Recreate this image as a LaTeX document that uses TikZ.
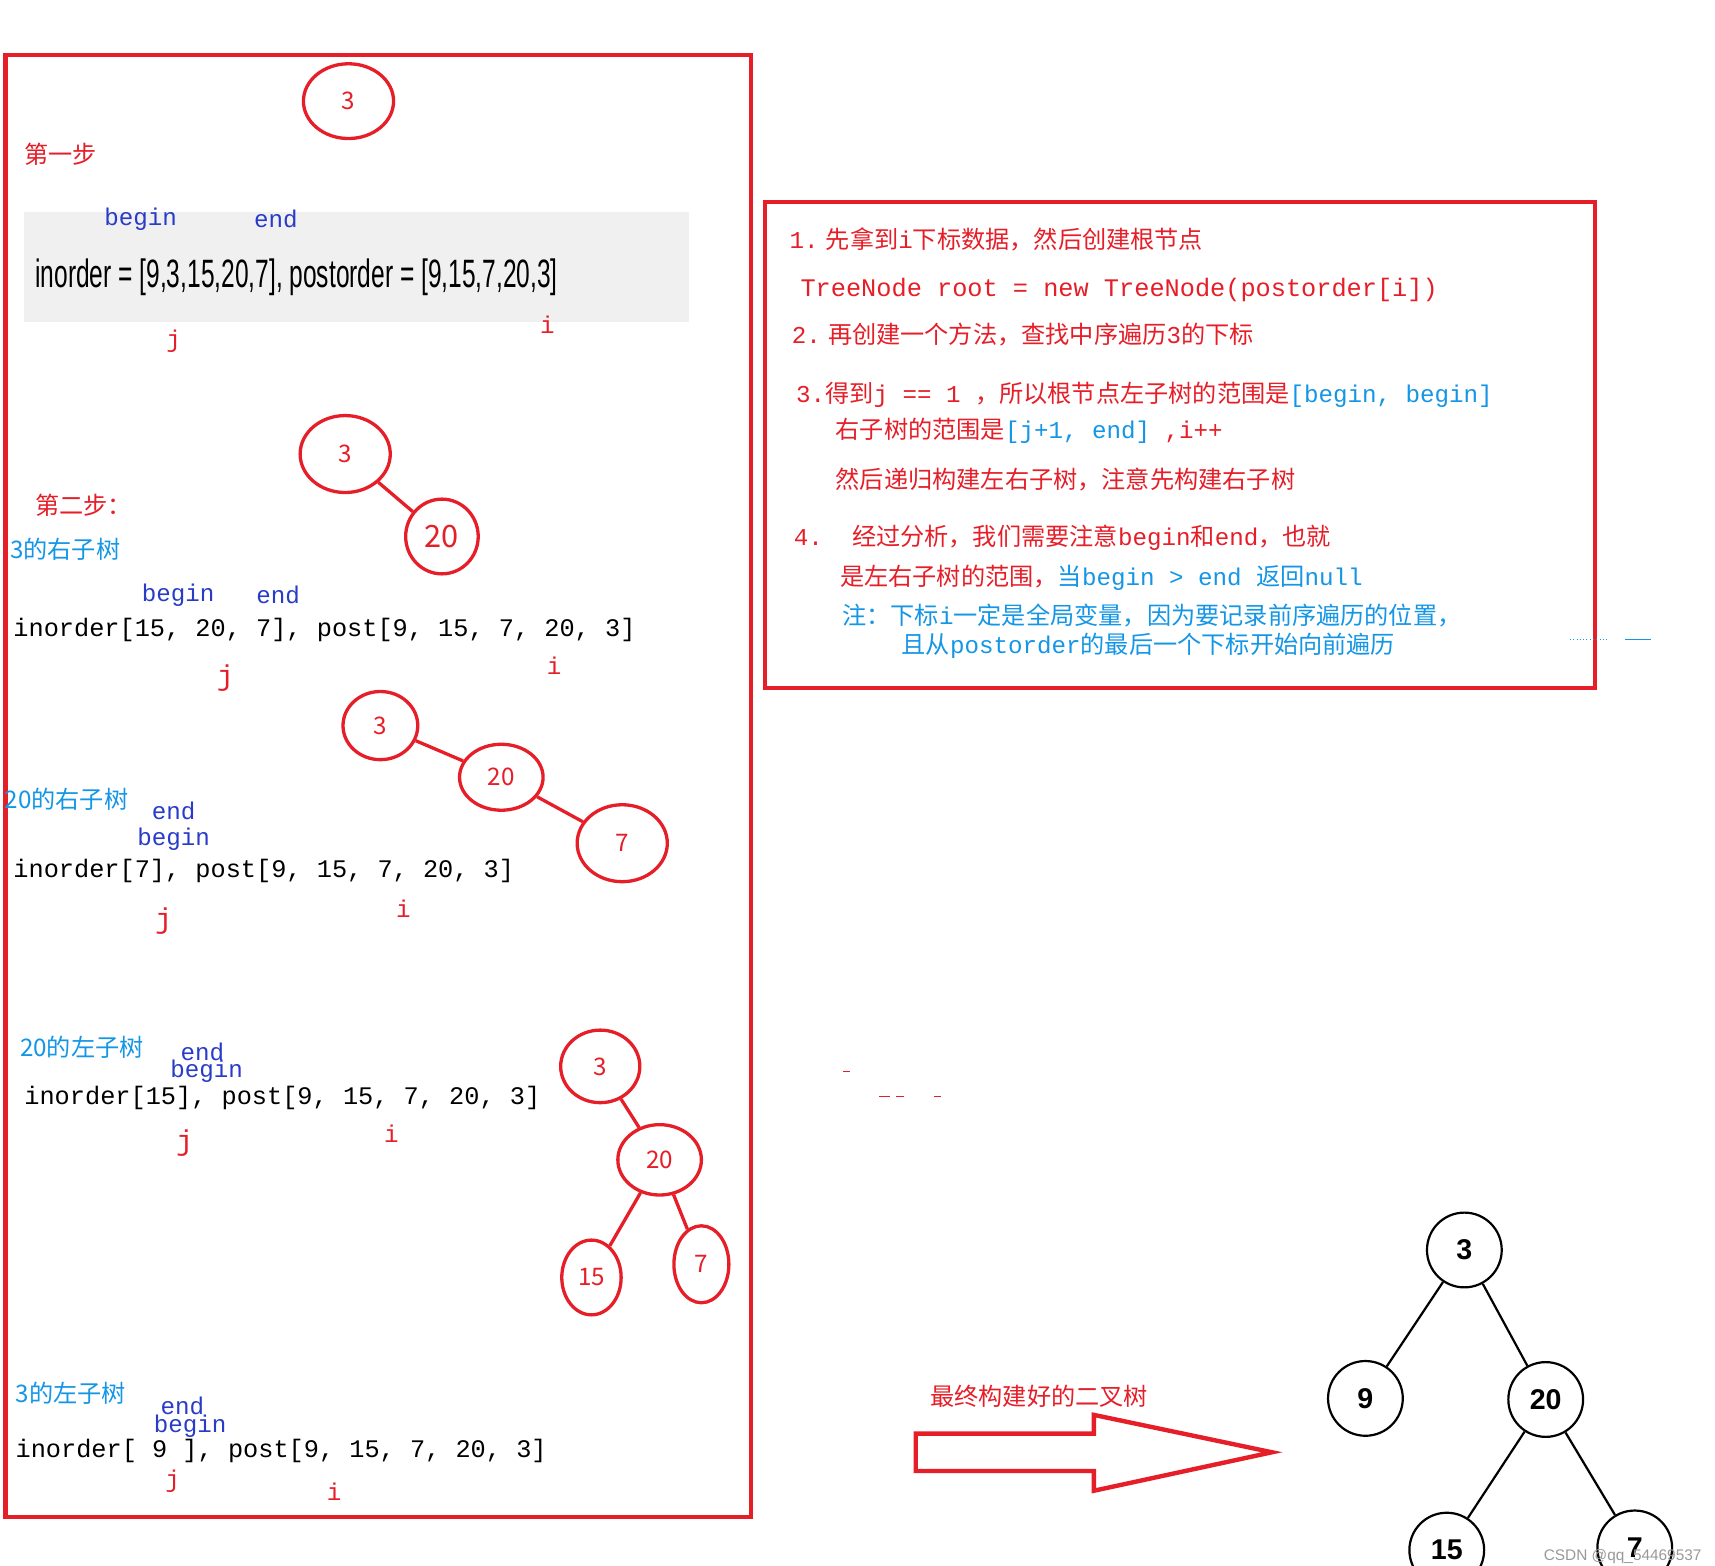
\documentclass[tikz,border=0pt]{standalone}
\usepackage{fontspec}
\usetikzlibrary{shapes.geometric}
\setmainfont{Noto Sans CJK SC}
\newfontfamily\mono{Liberation Mono}
\newfontfamily\arialf{Liberation Sans}
\definecolor{rd}{RGB}{230,30,40}
\definecolor{bl}{RGB}{40,60,200}
\definecolor{cy}{RGB}{20,150,230}
\newcommand{\mm}[1]{{\mono\fontsize{22}{24}\selectfont #1}}
\begin{document}
\begin{tikzpicture}[x=1pt,y=-1pt,
  rc/.style={draw=rd,line width=3pt,ellipse,inner sep=0pt},
  rt/.style={text=rd,font=\fontsize{22}{24}\selectfont,anchor=west,inner sep=0pt},
  bt/.style={text=bl,font=\mono\fontsize{22}{24}\selectfont,inner sep=0pt},
  ct/.style={text=cy,font=\fontsize{22}{24}\selectfont,anchor=west,inner sep=0pt},
  code/.style={font=\mono\fontsize{23}{25}\selectfont,anchor=west,inner sep=0pt},
  ij/.style={text=rd,font=\mono\fontsize{22}{24}\selectfont,inner sep=0pt},
  rl/.style={draw=rd,line width=3pt},
  bc/.style={draw,circle,line width=2pt,minimum size=68pt,inner sep=0pt,font=\arialf\bfseries\fontsize{26}{28}\selectfont},
  bl2/.style={line width=2pt}]
\useasboundingbox (0,0) rectangle (1560,1424);
\fill[white] (0,0) rectangle (1560,1424);
\node[draw=rd,line width=4pt,minimum width=678pt,minimum height=1330pt,anchor=north west] (lbox) at (3,48) {};
\node[draw=rd,line width=4pt,minimum width=755pt,minimum height=442pt,anchor=north west] (rbox) at (694,182) {};
% step 1
\node[rc,minimum width=82pt,minimum height=68pt,text=rd,font=\fontsize{22}{24}\selectfont] (a3) at (317,92) {3};
\node[rt] (s1) at (22,140) {第一步};
\fill[black!6] (22,193) rectangle (627,293);
\node[bt] (b1) at (128,199) {begin};
\node[bt] (e1) at (251,199) {end};
\node[anchor=west,xscale=0.62,font=\arialf\fontsize{36}{38}\selectfont,inner sep=0pt] (c1) at (32,252) {inorder = [9,3,15,20,7], postorder = [9,15,7,20,3]};
\node[ij] (j1) at (158,310) {j};
\node[ij] (i1) at (498,295) {i};
% step 2
\node[rc,minimum width=82pt,minimum height=70pt,text=rd,font=\fontsize{22}{24}\selectfont] (b3) at (314,413) {3};
\node[rc,minimum width=66pt,minimum height=68pt,text=rd,font=\fontsize{28}{30}\selectfont] (b20) at (402,488) {20};
\draw[rl] (b3) -- (b20);
\node[rt] (s2) at (32,460) {第二步：};
\node[ct] (t2) at (9,500) {3的右子树};
\node[bt] (b2) at (162,541) {begin};
\node[bt] (e2) at (253,541) {end};
\node[code] (c2) at (12,573) {inorder[15, 20, 7], post[9, 15, 7, 20, 3]};
\node[ij,font=\mono\fontsize{26}{28}\selectfont] (j2) at (205,617) {j};
\node[ij] (i2) at (504,606) {i};
% step 3
\node[rc,minimum width=68pt,minimum height=62pt,text=rd,font=\fontsize{22}{24}\selectfont] (c3) at (346,660) {3};
\node[rc,minimum width=76pt,minimum height=60pt,text=rd,font=\fontsize{22}{24}\selectfont] (c20) at (456,707) {20};
\node[rc,minimum width=82pt,minimum height=70pt,text=rd,font=\fontsize{22}{24}\selectfont] (c7) at (566,767) {7};
\draw[rl] (c3) -- (c20);
\draw[rl] (c20) -- (c7);
\node[ct] (t3) at (4,727) {20的右子树};
\node[bt] (e3) at (158,738) {end};
\node[bt] (b3t) at (158,763) {begin};
\node[code] (c3c) at (12,792) {inorder[7], post[9, 15, 7, 20, 3]};
\node[ij,font=\mono\fontsize{26}{28}\selectfont] (j3) at (149,838) {j};
\node[ij] (i3) at (367,827) {i};
% step 4
\node[rc,minimum width=72pt,minimum height=66pt,text=rd,font=\fontsize{22}{24}\selectfont] (d3) at (546,970) {3};
\node[rc,minimum width=76pt,minimum height=64pt,text=rd,font=\fontsize{22}{24}\selectfont] (d20) at (600,1055) {20};
\node[rc,minimum width=54pt,minimum height=68pt,text=rd,font=\fontsize{22}{24}\selectfont] (d15) at (538,1162) {15};
\node[rc,minimum width=50pt,minimum height=70pt,text=rd,font=\fontsize{22}{24}\selectfont] (d7) at (638,1150) {7};
\draw[rl] (d3) -- (d20);
\draw[rl] (d20) -- (d15);
\draw[rl] (d20) -- (d7);
\node[ct] (t4) at (18,953) {20的左子树};
\node[bt] (e4) at (184,957) {end};
\node[bt] (b4) at (188,974) {begin};
\node[code] (c4) at (22,999) {inorder[15], post[9, 15, 7, 20, 3]};
\node[ij,font=\mono\fontsize{26}{28}\selectfont] (j4) at (168,1040) {j};
\node[ij] (i4) at (356,1031) {i};
% step 5
\node[ct] (t5) at (14,1267) {3的左子树};
\node[bt] (e5) at (166,1279) {end};
\node[bt] (b5) at (173,1297) {begin};
\node[code] (c5) at (14,1320) {inorder[ 9 ], post[9, 15, 7, 20, 3]};
\node[ij] (j5) at (157,1347) {j};
\node[ij] (i5) at (304,1357) {i};
% right box text
\node[rt] (r1) at (718,218) {\mm{1.} 先拿到\mm{i}下标数据，然后创建根节点};
\node[rt,font=\mono\fontsize{23}{25}\selectfont] (r2) at (728,264) {TreeNode root = new TreeNode(postorder[i])};
\node[rt] (r3) at (720,304) {\mm{2.} 再创建一个方法，查找中序遍历\mm{3}的下标};
\node[rt] (r4) at (724,359) {\mm{3.}得到\mm{j == 1 }，所以根节点左子树的范围是\textcolor{cy}{\mm{[begin, begin]}}};
\node[rt] (r5) at (760,392) {右子树的范围是\textcolor{cy}{\mm{[j+1, end]}}\mm{ ,i++}};
\node[rt] (r6) at (760,436) {然后递归构建左右子树，注意先构建右子树};
\node[rt] (r7) at (722,489) {\mm{4.\ \ }经过分析，我们需要注意\mm{begin}和\mm{end}，也就};
\node[rt] (r8) at (764,526) {是左右子树的范围，\textcolor{cy}{当\mm{begin > end }返回\mm{null}}};
\node[ct] (r9) at (766,560) {注：下标\mm{i}一定是全局变量，因为要记录前序遍历的位置，};
\node[ct] (r10) at (820,587) {且从\mm{postorder}的最后一个下标开始向前遍历};
\draw[cy,dotted,line width=1pt] (1428,582) -- (1462,582);
\draw[cy,line width=1pt] (1478,582) -- (1502,582);
\draw[rd,line width=1pt] (767,975) -- (773,975) (800,997) -- (810,997) (815,997) -- (822,997) (850,997) -- (856,997);
% final
\node[rt] (fl) at (846,1270) {最终构建好的二叉树};
\draw[rd,line width=4pt,line join=miter] (833,1304) -- (995,1304) -- (995,1287) -- (1157,1321) -- (995,1356) -- (995,1338) -- (833,1338) -- cycle;
\node[bc] (n3) at (1332,1137) {3};
\node[bc] (n9) at (1242,1272) {9};
\node[bc] (n20) at (1406,1273) {20};
\node[bc] (n15) at (1316,1410) {15};
\node[bc] (n7) at (1487,1408) {7};
\draw[bl2] (n3) -- (n9); \draw[bl2] (n3) -- (n20);
\draw[bl2] (n20) -- (n15); \draw[bl2] (n20) -- (n7);
\node[text=black!40,font=\arialf\fontsize{14}{16}\selectfont] (wm) at (1476,1416) {CSDN @qq\_54469537};
\end{tikzpicture}
\end{document}
